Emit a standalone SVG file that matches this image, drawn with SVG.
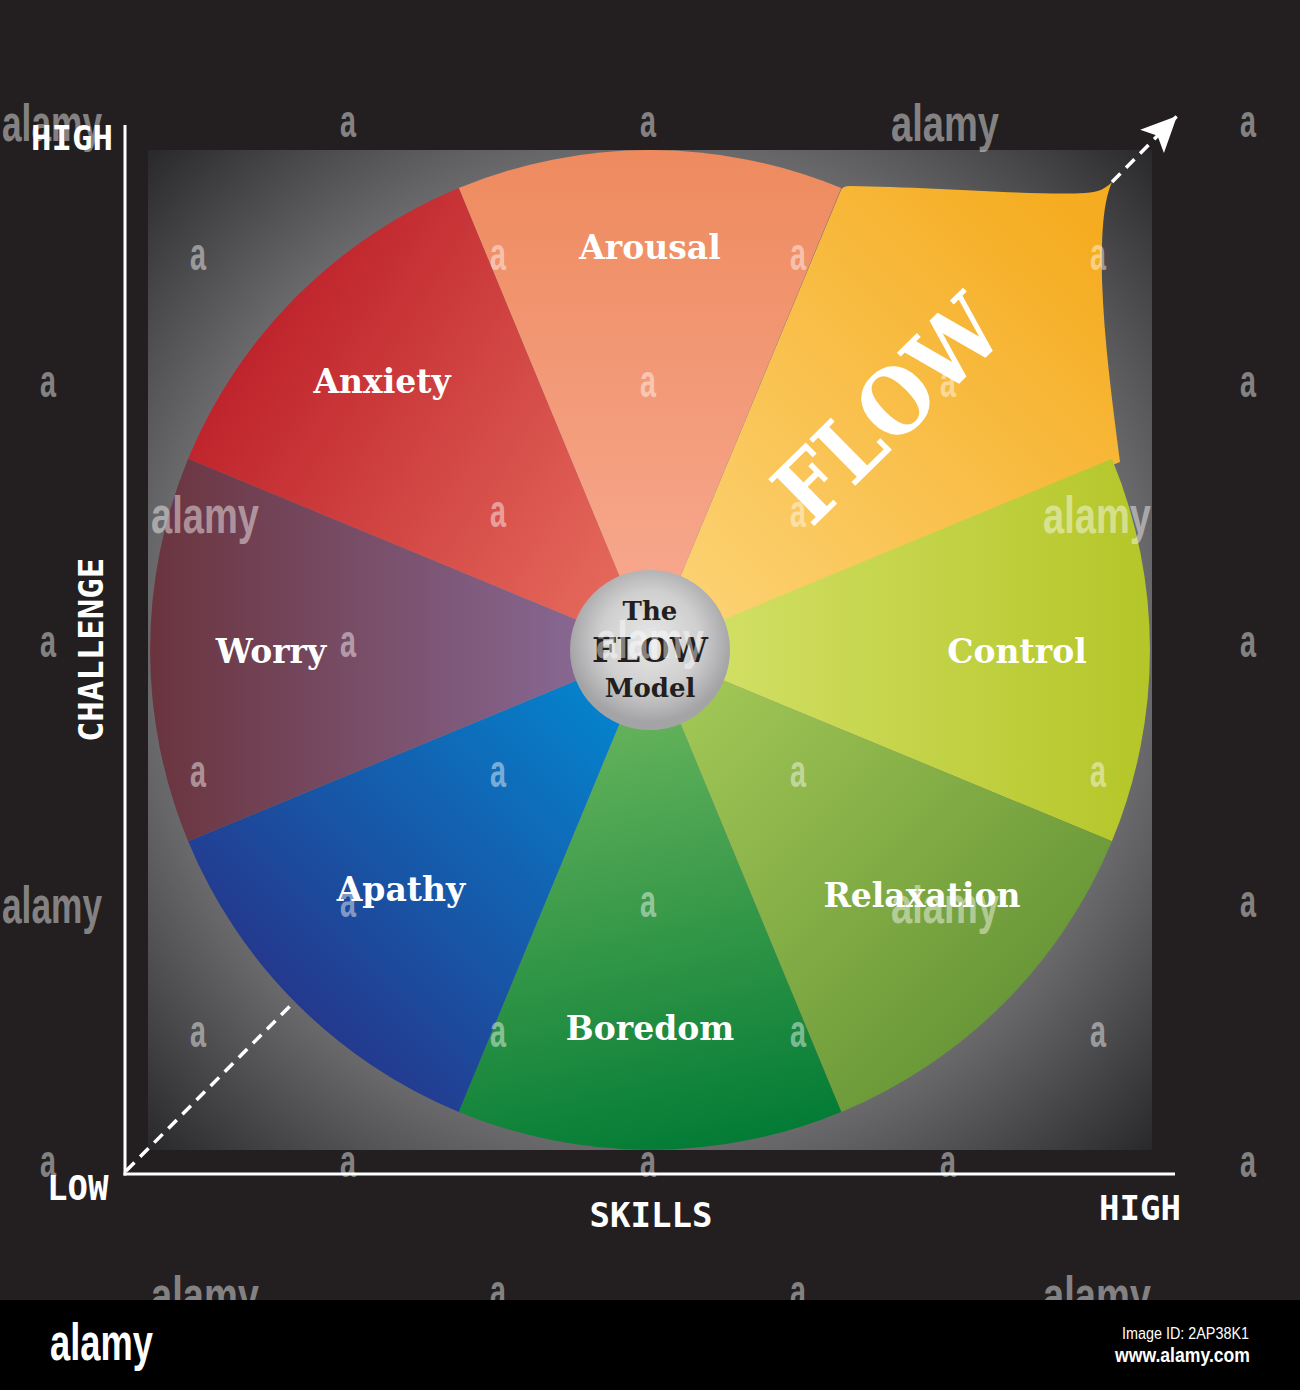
<svg xmlns="http://www.w3.org/2000/svg" width="1300" height="1390" viewBox="0 0 1300 1390">
<defs>
<style>
.lbl{font-family:"DejaVu Serif","Liberation Serif",serif;font-weight:bold;font-size:33px;fill:#ffffff;text-anchor:middle}
.ctr{font-family:"DejaVu Serif","Liberation Serif",serif;font-weight:bold;fill:#231f20;text-anchor:middle}
.ax{font-family:"DejaVu Sans Mono","Liberation Mono",monospace;font-weight:bold;font-size:34px;fill:#ffffff}
.axl{stroke:#ffffff;stroke-width:3;fill:none}
.dash{stroke:#ffffff;stroke-width:3.5;fill:none;stroke-dasharray:12 8}
.wm{font-family:"Liberation Sans",Arial,sans-serif;font-weight:bold;fill:#ffffff;fill-opacity:0.45;text-anchor:middle}
.wa{font-size:46px}
.wl{font-size:52px}
</style>
<radialGradient id="bg" gradientUnits="userSpaceOnUse" cx="650" cy="650" r="707">
<stop offset="0" stop-color="#9a9a9c"/>
<stop offset="0.7" stop-color="#6b6b6d"/>
<stop offset="1" stop-color="#29292b"/>
</radialGradient>
<radialGradient id="hub" gradientUnits="userSpaceOnUse" cx="650" cy="640" r="82">
<stop offset="0" stop-color="#e8e8e8"/>
<stop offset="0.6" stop-color="#cfcfd0"/>
<stop offset="1" stop-color="#a4a4a6"/>
</radialGradient>
<linearGradient id="gArousal" gradientUnits="userSpaceOnUse" x1="650" y1="650" x2="650" y2="150">
<stop offset="0" stop-color="#f8ab94"/><stop offset="1" stop-color="#ee8a5e"/>
</linearGradient>
<linearGradient id="gFlow" gradientUnits="userSpaceOnUse" x1="650" y1="650" x2="1080" y2="220">
<stop offset="0" stop-color="#fdd67c"/><stop offset="1" stop-color="#f5ac20"/>
</linearGradient>
<linearGradient id="gControl" gradientUnits="userSpaceOnUse" x1="650" y1="650" x2="1150" y2="650">
<stop offset="0" stop-color="#d6e36e"/><stop offset="1" stop-color="#b4c628"/>
</linearGradient>
<linearGradient id="gRelax" gradientUnits="userSpaceOnUse" x1="650" y1="650" x2="1003.6" y2="1003.6">
<stop offset="0" stop-color="#a9cd5a"/><stop offset="1" stop-color="#6a9838"/>
</linearGradient>
<linearGradient id="gBoredom" gradientUnits="userSpaceOnUse" x1="650" y1="650" x2="760" y2="1150">
<stop offset="0" stop-color="#72ba60"/><stop offset="1" stop-color="#007a34"/>
</linearGradient>
<linearGradient id="gApathy" gradientUnits="userSpaceOnUse" x1="650" y1="650" x2="296.4" y2="1003.6">
<stop offset="0" stop-color="#008ed6"/><stop offset="1" stop-color="#24398e"/>
</linearGradient>
<linearGradient id="gWorry" gradientUnits="userSpaceOnUse" x1="650" y1="650" x2="150" y2="650">
<stop offset="0" stop-color="#8c70a0"/><stop offset="1" stop-color="#6a343e"/>
</linearGradient>
<linearGradient id="gAnxiety" gradientUnits="userSpaceOnUse" x1="650" y1="650" x2="230" y2="380">
<stop offset="0" stop-color="#ea7262"/><stop offset="1" stop-color="#bf242c"/>
</linearGradient>
<marker id="arrow" markerUnits="userSpaceOnUse" markerWidth="40" markerHeight="40" viewBox="-34 -18 36 36" refX="0" refY="0" orient="auto">
<path d="M0,0 L-32,-15 L-25,0 L-32,15 Z" fill="#ffffff"/>
</marker>
</defs>

<rect x="0" y="0" width="1300" height="1390" fill="#231f20"/>
<rect x="148" y="150" width="1004" height="1000" fill="url(#bg)"/>

<g id="connectors">
<line class="axl" x1="125" y1="125" x2="125" y2="1175.5"/>
<line class="axl" x1="123.5" y1="1174" x2="1175" y2="1174"/>
<line class="dash" x1="126" y1="1171" x2="293" y2="1003"/>
<line class="dash" x1="1112" y1="182" x2="1177" y2="116" marker-end="url(#arrow)"/>
</g>

<g id="sector-flow">
<path d="M650,650 L841,190 Q843,186 850,186 C930,187 1040,196 1085,193 C1100,192 1106,188 1112,182 C1104,200 1101,230 1102,280 C1104,340 1112,400 1120,462 Z" fill="url(#gFlow)"/>
</g>
<g id="sector-arousal">
<path d="M650,650 L458.7,188.1 A500,500 0 0 1 841.3,188.1 Z" fill="url(#gArousal)"/>
<text class="lbl" x="650" y="259">Arousal</text>
</g>
<g id="sector-control">
<path d="M650,650 L1111.9,458.7 A500,500 0 0 1 1111.9,841.3 Z" fill="url(#gControl)"/>
<text class="lbl" x="1017" y="663">Control</text>
</g>
<g id="sector-relaxation">
<path d="M650,650 L1111.9,841.3 A500,500 0 0 1 841.3,1111.9 Z" fill="url(#gRelax)"/>
<text class="lbl" x="922" y="907">Relaxation</text>
</g>
<g id="sector-boredom">
<path d="M650,650 L841.3,1111.9 A500,500 0 0 1 458.7,1111.9 Z" fill="url(#gBoredom)"/>
<text class="lbl" x="650" y="1040">Boredom</text>
</g>
<g id="sector-apathy">
<path d="M650,650 L458.7,1111.9 A500,500 0 0 1 188.1,841.3 Z" fill="url(#gApathy)"/>
<text class="lbl" x="401" y="901">Apathy</text>
</g>
<g id="sector-worry">
<path d="M650,650 L188.1,841.3 A500,500 0 0 1 188.1,458.7 Z" fill="url(#gWorry)"/>
<text class="lbl" x="271" y="663">Worry</text>
</g>
<g id="sector-anxiety">
<path d="M650,650 L188.1,458.7 A500,500 0 0 1 458.7,188.1 Z" fill="url(#gAnxiety)"/>
<text class="lbl" x="382" y="393">Anxiety</text>
</g>
<g id="flow-label">
<text transform="translate(910,432) rotate(-44.5)" x="0" y="0" font-family="DejaVu Serif, Liberation Serif, serif" font-weight="bold" font-size="90" fill="#ffffff" text-anchor="middle" textLength="276" lengthAdjust="spacingAndGlyphs">FLOW</text>
</g>

<g id="hub">
<circle cx="650" cy="650" r="80" fill="url(#hub)"/>
<text class="ctr" x="650" y="620" font-size="26">The</text>
<text class="ctr" x="650" y="662" font-size="34">FLOW</text>
<text class="ctr" x="650" y="697" font-size="26">Model</text>
</g>

<g id="axis-labels">
<text class="ax" x="31" y="150">HIGH</text>
<text class="ax" x="47" y="1200">LOW</text>
<text class="ax" x="1099" y="1220">HIGH</text>
<text class="ax" x="651" y="1227" font-size="37" text-anchor="middle">SKILLS</text>
<text class="ax" transform="translate(103,650) rotate(-90)" x="0" y="0" font-size="38" text-anchor="middle">CHALLENGE</text>
</g>

<g id="watermarks">
<text class="wm wa" x="348" y="137" textLength="16" lengthAdjust="spacingAndGlyphs">a</text>
<text class="wm wa" x="648" y="137" textLength="16" lengthAdjust="spacingAndGlyphs">a</text>
<text class="wm wa" x="1248" y="137" textLength="16" lengthAdjust="spacingAndGlyphs">a</text>
<text class="wm wa" x="198" y="270" textLength="16" lengthAdjust="spacingAndGlyphs">a</text>
<text class="wm wa" x="498" y="270" textLength="16" lengthAdjust="spacingAndGlyphs">a</text>
<text class="wm wa" x="798" y="270" textLength="16" lengthAdjust="spacingAndGlyphs">a</text>
<text class="wm wa" x="1098" y="270" textLength="16" lengthAdjust="spacingAndGlyphs">a</text>
<text class="wm wa" x="48" y="397" textLength="16" lengthAdjust="spacingAndGlyphs">a</text>
<text class="wm wa" x="648" y="397" textLength="16" lengthAdjust="spacingAndGlyphs">a</text>
<text class="wm wa" x="948" y="397" textLength="16" lengthAdjust="spacingAndGlyphs">a</text>
<text class="wm wa" x="1248" y="397" textLength="16" lengthAdjust="spacingAndGlyphs">a</text>
<text class="wm wa" x="498" y="527" textLength="16" lengthAdjust="spacingAndGlyphs">a</text>
<text class="wm wa" x="798" y="527" textLength="16" lengthAdjust="spacingAndGlyphs">a</text>
<text class="wm wa" x="48" y="657" textLength="16" lengthAdjust="spacingAndGlyphs">a</text>
<text class="wm wa" x="348" y="657" textLength="16" lengthAdjust="spacingAndGlyphs">a</text>
<text class="wm wa" x="1248" y="657" textLength="16" lengthAdjust="spacingAndGlyphs">a</text>
<text class="wm wa" x="198" y="787" textLength="16" lengthAdjust="spacingAndGlyphs">a</text>
<text class="wm wa" x="498" y="787" textLength="16" lengthAdjust="spacingAndGlyphs">a</text>
<text class="wm wa" x="798" y="787" textLength="16" lengthAdjust="spacingAndGlyphs">a</text>
<text class="wm wa" x="1098" y="787" textLength="16" lengthAdjust="spacingAndGlyphs">a</text>
<text class="wm wa" x="348" y="917" textLength="16" lengthAdjust="spacingAndGlyphs">a</text>
<text class="wm wa" x="648" y="917" textLength="16" lengthAdjust="spacingAndGlyphs">a</text>
<text class="wm wa" x="1248" y="917" textLength="16" lengthAdjust="spacingAndGlyphs">a</text>
<text class="wm wa" x="198" y="1047" textLength="16" lengthAdjust="spacingAndGlyphs">a</text>
<text class="wm wa" x="498" y="1047" textLength="16" lengthAdjust="spacingAndGlyphs">a</text>
<text class="wm wa" x="798" y="1047" textLength="16" lengthAdjust="spacingAndGlyphs">a</text>
<text class="wm wa" x="1098" y="1047" textLength="16" lengthAdjust="spacingAndGlyphs">a</text>
<text class="wm wa" x="48" y="1177" textLength="16" lengthAdjust="spacingAndGlyphs">a</text>
<text class="wm wa" x="348" y="1177" textLength="16" lengthAdjust="spacingAndGlyphs">a</text>
<text class="wm wa" x="648" y="1177" textLength="16" lengthAdjust="spacingAndGlyphs">a</text>
<text class="wm wa" x="948" y="1177" textLength="16" lengthAdjust="spacingAndGlyphs">a</text>
<text class="wm wa" x="1248" y="1177" textLength="16" lengthAdjust="spacingAndGlyphs">a</text>
<text class="wm wa" x="498" y="1307" textLength="16" lengthAdjust="spacingAndGlyphs">a</text>
<text class="wm wa" x="798" y="1307" textLength="16" lengthAdjust="spacingAndGlyphs">a</text>
<text class="wm wl" x="52" y="141" textLength="100" lengthAdjust="spacingAndGlyphs">alamy</text>
<text class="wm wl" x="945" y="141" textLength="108" lengthAdjust="spacingAndGlyphs">alamy</text>
<text class="wm wl" x="205" y="533" textLength="108" lengthAdjust="spacingAndGlyphs">alamy</text>
<text class="wm wl" x="1097" y="533" textLength="108" lengthAdjust="spacingAndGlyphs">alamy</text>
<text class="wm wl" x="650" y="658" textLength="108" lengthAdjust="spacingAndGlyphs">alamy</text>
<text class="wm wl" x="52" y="923" textLength="100" lengthAdjust="spacingAndGlyphs">alamy</text>
<text class="wm wl" x="945" y="923" textLength="108" lengthAdjust="spacingAndGlyphs">alamy</text>
<text class="wm wl" x="205" y="1313" textLength="108" lengthAdjust="spacingAndGlyphs">alamy</text>
<text class="wm wl" x="1097" y="1313" textLength="108" lengthAdjust="spacingAndGlyphs">alamy</text>
</g>

<g id="footer">
<rect x="0" y="1300" width="1300" height="90" fill="#000000"/>
<text x="50" y="1360" font-family="Liberation Sans, Arial, sans-serif" font-weight="bold" font-size="52" fill="#ffffff" textLength="103" lengthAdjust="spacingAndGlyphs">alamy</text>
<text x="1249" y="1339" font-family="Liberation Sans, Arial, sans-serif" font-size="16" fill="#ffffff" text-anchor="end" textLength="127" lengthAdjust="spacingAndGlyphs">Image ID: 2AP38K1</text>
<text x="1250" y="1362" font-family="Liberation Sans, Arial, sans-serif" font-weight="bold" font-size="20" fill="#ffffff" text-anchor="end" textLength="135" lengthAdjust="spacingAndGlyphs">www.alamy.com</text>
</g>
</svg>
